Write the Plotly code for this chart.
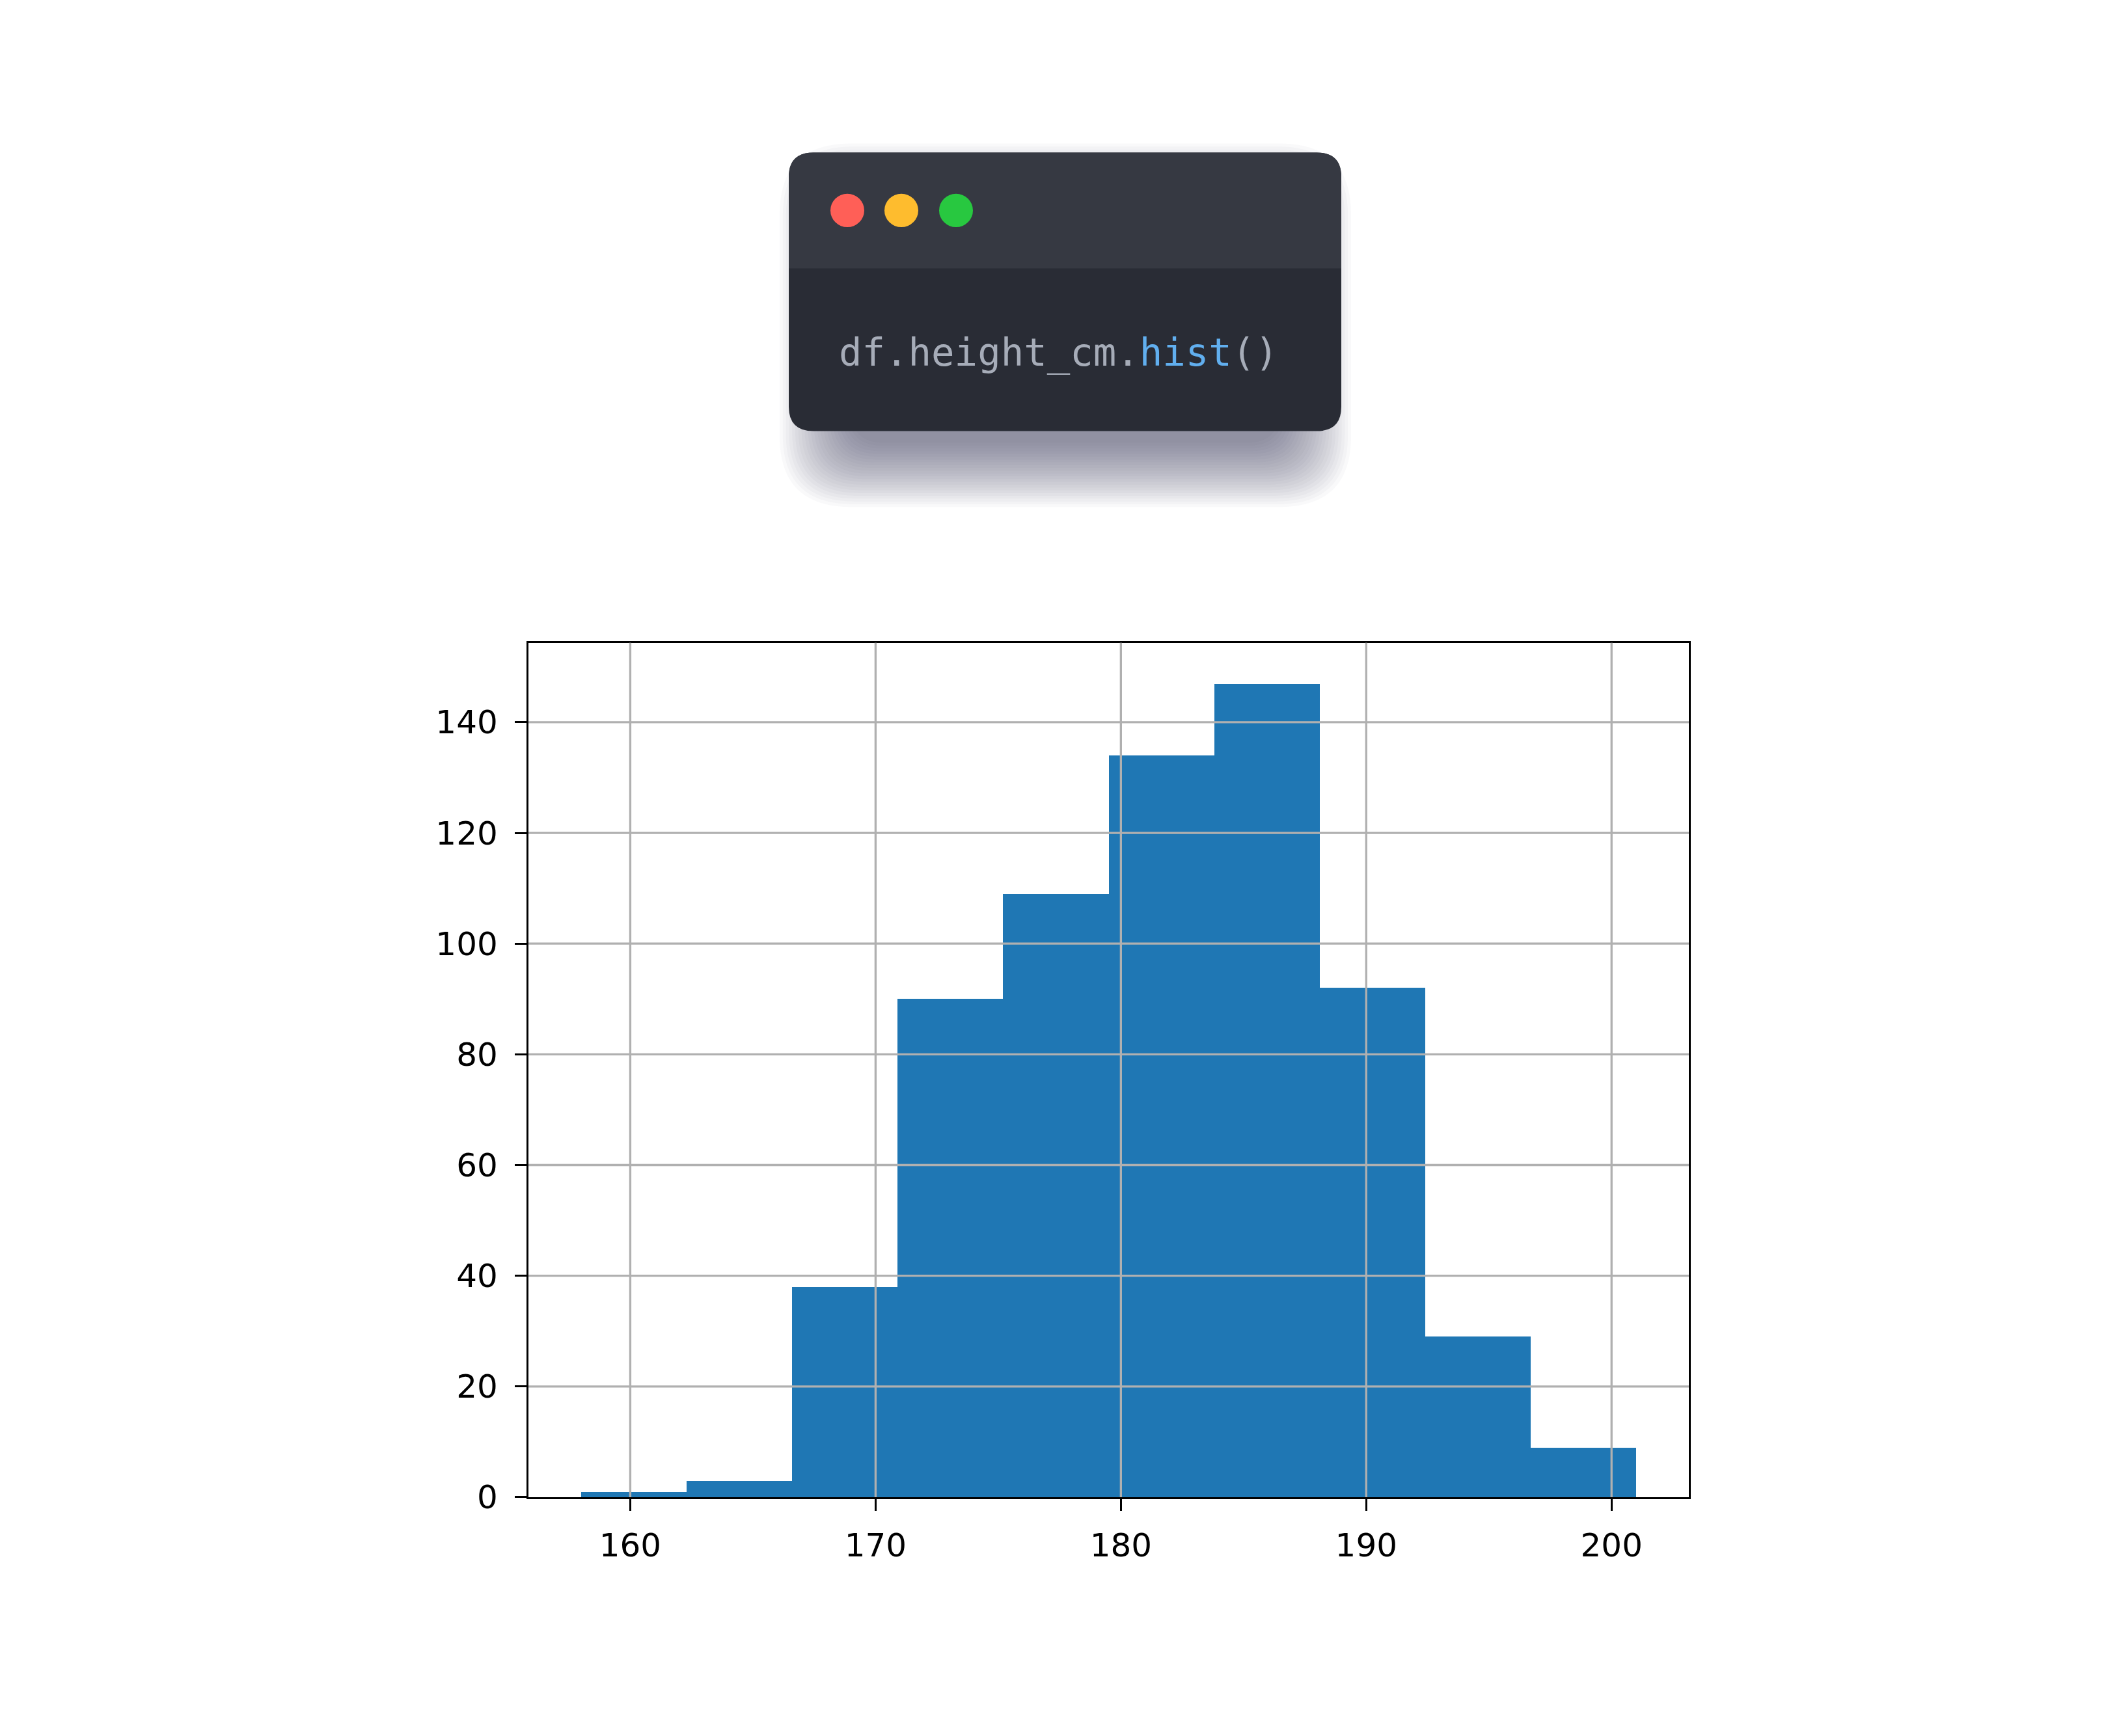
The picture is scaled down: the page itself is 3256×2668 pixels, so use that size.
import plotly.graph_objects as go

# histogram: bin edges (cm) and counts
bin_edges = [158.0, 162.3, 166.6, 170.9, 175.2, 179.5, 183.8, 188.1, 192.4, 196.7, 201.0]
bin_counts = [1, 3, 38, 90, 109, 134, 147, 92, 29, 9]
x_ticks = [160, 170, 180, 190, 200]
y_ticks = [0, 20, 40, 60, 80, 100, 120, 140]
code_text = "df.height_cm."
code_call = "hist"
code_tail = "()"

W, H = 3256, 2668

def px(x):
    return x / W

def py(y):
    return 1 - y / H

#Rounded rectangle path in paper coords, from pixel box
def rounded_path(x0, y0, x1, y1, r, top=True, bottom=True):
    rt = r if top else 0
    rb = r if bottom else 0
    p = "M %f,%f " % (px(x0 + rt), py(y0))
    p += "L %f,%f " % (px(x1 - rt), py(y0))
    p += "Q %f,%f %f,%f " % (px(x1), py(y0), px(x1), py(y0 + rt))
    p += "L %f,%f " % (px(x1), py(y1 - rb))
    p += "Q %f,%f %f,%f " % (px(x1), py(y1), px(x1 - rb), py(y1))
    p += "L %f,%f " % (px(x0 + rb), py(y1))
    p += "Q %f,%f %f,%f " % (px(x0), py(y1), px(x0), py(y1 - rb))
    p += "L %f,%f " % (px(x0), py(y0 + rt))
    p += "Q %f,%f %f,%f Z" % (px(x0), py(y0), px(x0 + rt), py(y0))
    return p

centers = [(bin_edges[i] + bin_edges[i + 1]) / 2 for i in range(len(bin_counts))]
widths = [bin_edges[i + 1] - bin_edges[i] for i in range(len(bin_counts))]

fig = go.Figure()
fig.add_trace(go.Bar(x=centers, y=bin_counts, width=widths,
                     marker=dict(color="#1f77b4", line=dict(width=0)),
                     hoverinfo="skip"))

#Plot area
span = bin_edges[-1] - bin_edges[0]
x_range = [bin_edges[0] - 0.05 * span, bin_edges[-1] + 0.05 * span]
y_range = [0, max(bin_counts) * 1.05]

axis_font = dict(family="DejaVu Sans", size=50, color="black")
fig.update_layout(
    width=W, height=H,
    margin=dict(l=0, r=0, t=0, b=0),
    paper_bgcolor="white", plot_bgcolor="white",
    showlegend=False, bargap=0,
    xaxis=dict(domain=[px(804), px(2587)], range=x_range, tickvals=x_ticks,
               showgrid=False, zeroline=False, showline=True, mirror=True,
               linecolor="black", linewidth=3.4, ticks="outside", ticklen=18,
               tickwidth=3.4, tickcolor="black", tickfont=axis_font,
               ticklabelstandoff=10),
    yaxis=dict(domain=[py(2319), py(991)], range=y_range, tickvals=y_ticks,
               showgrid=False, zeroline=False, showline=True, mirror=True,
               linecolor="black", linewidth=3.4, ticks="outside", ticklen=18,
               tickwidth=3.4, tickcolor="black", tickfont=axis_font,
               ticklabelstandoff=16),
)

#Gridlines drawn on top of the bars like matplotlib
for xv in x_ticks:
    fig.add_vline(x=xv, line=dict(color="#b0b0b0", width=3.3), layer="above")
for yv in y_ticks[1:]:
    fig.add_hline(y=yv, line=dict(color="#b0b0b0", width=3.3), layer="above")

#Card shadow (stacked translucent layers)
n_layers = 24
for k in range(n_layers):
    t = k / (n_layers - 1)
    sx0 = 1190 + t * 110
    sx1 = 2068 - t * 110
    sy0 = 215 + t * 110
    sy1 = 780 - t * 100
    fig.add_shape(type="path", xref="paper", yref="paper",
                  path=rounded_path(sx0, sy0, sx1, sy1, 110 - t * 60),
                  fillcolor="#33425a", opacity=0.032, line=dict(width=0), layer="below")

#Card body and header
card = (1204, 229, 2053, 662)
fig.add_shape(type="path", xref="paper", yref="paper",
              path=rounded_path(card[0], card[1], card[2], card[3], 38),
              fillcolor="#292c35", line=dict(width=0), layer="below")
fig.add_shape(type="path", xref="paper", yref="paper",
              path=rounded_path(card[0], card[1], card[2], 409, 38, bottom=False),
              fillcolor="#363942", line=dict(width=0), layer="below")

#Window buttons
for cx, col in [(1294, "#ff5f57"), (1377, "#febc2e"), (1461, "#28c840")]:
    r = 26
    fig.add_shape(type="circle", xref="paper", yref="paper",
                  x0=px(cx - r), x1=px(cx + r), y0=py(319 + r), y1=py(319 - r),
                  fillcolor=col, line=dict(width=0), layer="below")

fig.add_annotation(xref="paper", yref="paper", x=px(1279), y=py(540),
                   xanchor="left", yanchor="middle", showarrow=False,
                   text=code_text + '<span style="color:#61afef">' + code_call + "</span>" + code_tail,
                   font=dict(family="DejaVu Sans Mono", size=59, color="#a6acb8"))

fig.write_html("out.html")
